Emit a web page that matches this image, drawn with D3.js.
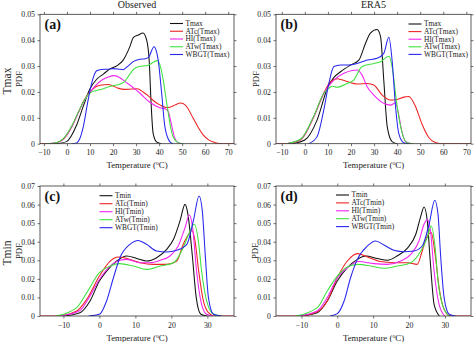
<!DOCTYPE html>
<html>
<head>
<meta charset="utf-8">
<script src="https://cdn.jsdelivr.net/npm/d3@7"></script>
<style>
  body { margin: 0; background: #fff; }
  svg { display: block; font-family: "Liberation Serif", "Times New Roman", serif; }
</style>
</head>
<body>
<script>
// ---- kernel density curves, [temperature, pdf] ----

// (a) Observed, Tmax-based indices
const obsTmax = [[-5,0],[-0.2,0.0008],[4.2,0.0072],[7.1,0.0145],[10,0.0212],[12.9,0.0249],[15.8,0.0269],[18.7,0.0289],[21.5,0.0300],[24.4,0.0323],[27.3,0.0375],[28.8,0.0410],[31,0.0420],[33,0.0428],[34.6,0.0400],[35.7,0.0320],[36.5,0.0160],[37.4,0.0040],[39,0.0006],[41,0]];
const obsATcMax = [[-11.7,0],[-7,0],[-4.5,0.0004],[-1.6,0.0017],[2.5,0.0072],[5,0.0122],[7.5,0.0169],[10,0.0200],[12.5,0.0220],[15,0.0227],[18,0.0229],[22,0.0215],[25,0.0210],[28,0.0211],[30.5,0.0212],[33,0.0200],[35.7,0.0182],[38,0.0163],[40.3,0.0150],[43,0.0140],[45,0.0142],[47,0.0150],[49.3,0.0157],[51.5,0.0148],[54.8,0.0098],[57,0.0063],[59.1,0.0034],[61.5,0.0015],[63.5,0.0007],[66,0.0001],[68,0],[72.5,0]];
const obsHIMax = [[-9,0],[-4.5,0.0004],[-1.6,0.0018],[2.5,0.0073],[5,0.0122],[7.5,0.0167],[10,0.0198],[12.5,0.0225],[15,0.0245],[18,0.0258],[20.5,0.0263],[23,0.0255],[25.5,0.0238],[28,0.0222],[30,0.0208],[31.7,0.0195],[35.7,0.0162],[40.3,0.0139],[42.8,0.0134],[44,0.0124],[45.2,0.0080],[46.5,0.0030],[48,0.0005],[50,0]];
const obsATwMax = [[-9,0],[-4.5,0.0005],[-1.6,0.0020],[2.5,0.0076],[5,0.0124],[7.5,0.0167],[10,0.0196],[12.5,0.0205],[15,0.0210],[17.5,0.0218],[20,0.0224],[22.5,0.0229],[25,0.0240],[27,0.0265],[29,0.0288],[31,0.0297],[35.3,0.0303],[37.5,0.0315],[39.2,0.0321],[40.5,0.0300],[41.8,0.0246],[43.3,0.0157],[45.4,0.0046],[47.6,0.0008],[50,0]];
const obsWBGTMax = [[2,0],[4.2,0.0003],[5.6,0.0020],[7.1,0.0066],[9.2,0.0169],[10.7,0.0233],[12.9,0.0282],[15,0.0287],[17.5,0.0288],[20,0.0290],[22,0.0289],[24.4,0.0286],[26.5,0.0300],[28.8,0.0317],[31.7,0.0326],[34,0.0328],[35.5,0.0335],[37.8,0.0375],[38.8,0.0358],[39.6,0.0323],[41.1,0.0195],[42.5,0.0066],[44.7,0.0007],[46,0]];

// (b) ERA5, Tmax-based indices
const eraTmax = [[-5.5,0],[0,0.0014],[5.3,0.0091],[10,0.0220],[12.6,0.0256],[15.5,0.0278],[19.8,0.0304],[23.4,0.0323],[26.3,0.0388],[28.4,0.0427],[31.3,0.0441],[32.8,0.0414],[34.2,0.0246],[35.7,0.0066],[37.8,0.0008],[40,0]];
const eraATcMax = [[-12.5,0],[-8,0],[-1.9,0.0014],[3.9,0.0104],[8.2,0.0195],[11.1,0.0240],[14,0.0251],[18.3,0.0240],[22.7,0.0231],[27,0.0233],[29.9,0.0227],[33.5,0.0188],[37.1,0.0169],[40,0.0171],[42.9,0.0180],[45,0.0182],[47.9,0.0145],[50.8,0.0075],[53.6,0.0025],[56.5,0.0005],[60,0],[72,0]];
const eraHIMax = [[-8,0],[-1.9,0.0016],[3.9,0.0106],[8.2,0.0195],[10.5,0.0225],[12.6,0.0246],[16.9,0.0272],[20.5,0.0283],[22.7,0.0285],[24.8,0.0265],[27,0.0220],[29.9,0.0188],[34.2,0.0156],[37.1,0.0149],[39.3,0.0158],[40.5,0.0120],[42,0.0050],[43.5,0.0010],[46,0]];
const eraATwMax = [[-8,0],[-1.9,0.0017],[3.9,0.0108],[8.2,0.0195],[10.5,0.0215],[11.8,0.0222],[14,0.0218],[18.3,0.0233],[21.2,0.0246],[24.8,0.0298],[29.9,0.0310],[32.8,0.0317],[35.7,0.0336],[36.5,0.0338],[37.8,0.0298],[40,0.0143],[42.2,0.0040],[44.3,0.0004],[47,0]];
const eraWBGTMax = [[1.7,0],[5.3,0.0027],[8.2,0.0130],[10.4,0.0233],[12.6,0.0298],[15.5,0.0304],[19.1,0.0304],[22.7,0.0310],[27,0.0323],[31.3,0.0330],[34.2,0.0349],[36.4,0.0411],[37.8,0.0323],[39.3,0.0143],[40.7,0.0040],[42.8,0.0004],[45,0]];

// (c) Observed, Tmin-based indices
const obsTmin = [[-10,0],[-5.4,0.0018],[-2.6,0.0081],[0,0.0188],[2,0.0242],[4.8,0.0296],[7.6,0.0323],[10.4,0.0310],[13.1,0.0296],[15.9,0.0314],[18.7,0.0359],[20.6,0.0413],[22.4,0.0512],[23.8,0.0601],[24.6,0.0547],[25.8,0.0330],[26.9,0.0100],[28.2,0.0009],[30,0]];
const obsATcMin = [[-16.5,0],[-12,0],[-6.3,0.0027],[-3.5,0.0090],[0,0.0215],[3,0.0296],[5.3,0.0318],[7.6,0.0310],[11.3,0.0287],[15,0.0278],[18.7,0.0278],[21.5,0.0296],[23.3,0.0386],[24.8,0.0440],[25.7,0.0460],[26.6,0.0400],[27.6,0.0240],[28.8,0.0090],[30.3,0.0018],[32,0],[37.4,0]];
const obsHIMin = [[-11,0],[-5.4,0.0030],[-2.6,0.0108],[0,0.0197],[3,0.0269],[5.7,0.0300],[7.6,0.0305],[11.3,0.0287],[14,0.0287],[16.9,0.0300],[19.6,0.0323],[21.9,0.0377],[23.8,0.0476],[25,0.0544],[25.9,0.0476],[27,0.0242],[28.4,0.0063],[29.8,0.0009],[31.5,0]];
const obsATwMin = [[-12,0],[-6.3,0.0045],[-3.5,0.0126],[0,0.0233],[3,0.0269],[5.7,0.0282],[9.4,0.0269],[13.1,0.0251],[16.9,0.0269],[20.6,0.0287],[23.3,0.0368],[25.2,0.0458],[26.4,0.0494],[27.5,0.0404],[28.4,0.0242],[29.8,0.0081],[31.7,0.0009],[34,0]];
const obsWBGTMin = [[-3,0],[0,0.0009],[2,0.0081],[3.9,0.0206],[5.7,0.0314],[8.5,0.0386],[10.8,0.0407],[13.1,0.0386],[15.9,0.0350],[18.7,0.0345],[21.5,0.0354],[24.3,0.0386],[26.1,0.0512],[27.7,0.0646],[28.6,0.0565],[29.4,0.0332],[30.3,0.0099],[31.7,0.0009],[34,0]];

// (d) ERA5, Tmin-based indices
const eraTmin = [[-10,0],[-5.6,0.0018],[-2.8,0.0081],[0,0.0188],[2.8,0.0260],[5.6,0.0305],[7.9,0.0323],[11.2,0.0310],[14,0.0300],[16.7,0.0323],[19.5,0.0364],[21.9,0.0440],[23.3,0.0538],[24.2,0.0587],[25.1,0.0512],[26,0.0278],[27,0.0063],[28.5,0]];
const eraATcMin = [[-17.1,0],[-11,0],[-5.6,0.0023],[-2.8,0.0081],[0,0.0206],[2.8,0.0296],[5.6,0.0336],[8.4,0.0318],[12.1,0.0293],[15.8,0.0287],[19.5,0.0287],[22.3,0.0278],[23.7,0.0350],[25.1,0.0431],[26.2,0.0449],[27.4,0.0314],[28.4,0.0153],[29.8,0.0036],[31.5,0],[37.3,0]];
const eraHIMin = [[-11,0],[-5.6,0.0027],[-2.8,0.0099],[0,0.0206],[2.8,0.0260],[6,0.0293],[10.2,0.0282],[14,0.0278],[17.7,0.0296],[20.5,0.0332],[22.8,0.0404],[24.2,0.0494],[25.1,0.0520],[26,0.0458],[27,0.0242],[28.4,0.0063],[30,0]];
const eraATwMin = [[-11.5,0],[-5.6,0.0045],[-2.8,0.0135],[0,0.0215],[2.8,0.0264],[5.6,0.0278],[9.3,0.0269],[13,0.0257],[16.7,0.0269],[20.5,0.0287],[23.3,0.0350],[25.1,0.0422],[26.2,0.0485],[27.3,0.0368],[28.1,0.0188],[29.3,0.0063],[31.2,0]];
const eraWBGTMin = [[-2,0],[0,0.0013],[1.9,0.0081],[3.7,0.0206],[5.6,0.0305],[8.4,0.0377],[10.7,0.0404],[13,0.0382],[15.8,0.0354],[18.6,0.0346],[21.4,0.0350],[23.7,0.0377],[25.6,0.0494],[27.2,0.0623],[28.1,0.0547],[28.8,0.0332],[29.8,0.0099],[31.2,0.0009],[33,0]];

// legend entries and ticks
const namesMax = ["Tmax", "ATc(Tmax)", "HI(Tmax)", "ATw(Tmax)", "WBGT(Tmax)"];
const namesMin = ["Tmin", "ATc(Tmin)", "HI(Tmin)", "ATw(Tmin)", "WBGT(Tmin)"];
const tempTicksMax = [-10, 0, 10, 20, 30, 40, 50, 60, 70];
const tempTicksMin = [-10, 0, 10, 20, 30];
const pdfTicksMax = [0, 0.01, 0.02, 0.03, 0.04, 0.05];
const pdfTicksMin = [0, 0.01, 0.02, 0.03, 0.04, 0.05, 0.06, 0.07];

const colors = ["#111111", "#ee2222", "#f024f0", "#3ee23e", "#2626ee"];

const W = 474, H = 342;
const svg = d3.select("body").append("svg")
    .attr("width", W)
    .attr("height", H);

svg.append("rect").attr("width", W).attr("height", H).attr("fill", "#fff");

const panels = [
  { tag: "(a)", title: "Observed", row: "Tmax", xr: [40, 234], yr: [143.7, 14.3], dom: [-11.7, 72.5], ymax: 0.05,
    xt: tempTicksMax, yt: pdfTicksMax, series: [obsTmax, obsATcMax, obsHIMax, obsATwMax, obsWBGTMax], names: namesMax,
    leg: [170, 23.5, 7.75], pdfX: 22 },
  { tag: "(b)", title: "ERA5", row: null, xr: [276, 471], yr: [143.7, 14.3], dom: [-12.5, 72.0], ymax: 0.05,
    xt: tempTicksMax, yt: pdfTicksMax, series: [eraTmax, eraATcMax, eraHIMax, eraATwMax, eraWBGTMax], names: namesMax,
    leg: [408.5, 24, 7.6], pdfX: 258.5 },
  { tag: "(c)", title: null, row: "Tmin", xr: [40, 234], yr: [316, 186], dom: [-16.5, 37.4], ymax: 0.07,
    xt: tempTicksMin, yt: pdfTicksMin, series: [obsTmin, obsATcMin, obsHIMin, obsATwMin, obsWBGTMin], names: namesMin,
    leg: [99.5, 195.7, 8], pdfX: 21.5 },
  { tag: "(d)", title: null, row: null, xr: [276, 471], yr: [316, 186], dom: [-17.1, 37.3], ymax: 0.07,
    xt: tempTicksMin, yt: pdfTicksMin, series: [eraTmin, eraATcMin, eraHIMin, eraATwMin, eraWBGTMin], names: namesMin,
    leg: [336, 195, 7.9], pdfX: 257.5 }
];

const fmtPdf = d => d === 0 ? "0" : d3.format(".2f")(d);

panels.forEach((p, i) => {
  const x = d3.scaleLinear().domain(p.dom).range(p.xr);
  const y = d3.scaleLinear().domain([0, p.ymax]).range(p.yr);
  const g = svg.append("g");
  const [x0, x1] = p.xr, [y1, y0] = p.yr;

  // clip the curves to the plot box
  const clipId = "clip" + i;
  svg.append("clipPath").attr("id", clipId)
    .append("rect").attr("x", x0).attr("y", y0).attr("width", x1 - x0).attr("height", y1 - y0);

  const line = d3.line()
      .x(d => x(d[0]))
      .y(d => y(d[1]))
      .curve(d3.curveMonotoneX);

  g.append("g").attr("clip-path", `url(#${clipId})`)
    .selectAll("path")
    .data(p.series)
    .join("path")
      .attr("d", line)
      .attr("fill", "none")
      .attr("stroke", (d, k) => colors[k])
      .attr("stroke-width", 1.05);

  // axes on all four sides
  const styleAxis = sel => {
    sel.select(".domain").remove();
    sel.selectAll("line").attr("stroke", "#333").attr("stroke-width", 0.7);
    sel.selectAll("text").attr("fill", "#222").style("font-size", "7.8px").style("font-family", "Liberation Serif, serif");
  };
  g.append("g").attr("transform", `translate(0,${y1})`)
    .call(d3.axisBottom(x).tickValues(p.xt).tickSize(2.5).tickPadding(3.5))
    .call(styleAxis);
  g.append("g").attr("transform", `translate(0,${y0})`)
    .call(d3.axisTop(x).tickValues(p.xt).tickSize(2.5).tickFormat(""))
    .call(styleAxis);
  g.append("g").attr("transform", `translate(${x0},0)`)
    .call(d3.axisLeft(y).tickValues(p.yt).tickSize(2.5).tickPadding(2.5).tickFormat(fmtPdf))
    .call(styleAxis);
  g.append("g").attr("transform", `translate(${x1},0)`)
    .call(d3.axisRight(y).tickValues(p.yt).tickSize(2.5).tickFormat(""))
    .call(styleAxis);

  g.append("rect")
    .attr("x", x0).attr("y", y0)
    .attr("width", x1 - x0).attr("height", y1 - y0)
    .attr("fill", "none")
    .attr("stroke", "#333")
    .attr("stroke-width", 0.8);

  // panel tag
  g.append("text")
    .attr("x", x0 + 4.5).attr("y", y0 + 15)
    .style("font-size", "14px").style("font-weight", "bold")
    .attr("fill", "#111")
    .text(p.tag);

  // legend
  const [lx, ly, ld] = p.leg;
  const leg = g.append("g");
  p.names.forEach((n, k) => {
    leg.append("line")
      .attr("x1", lx).attr("x2", lx + 13)
      .attr("y1", ly + k * ld).attr("y2", ly + k * ld)
      .attr("stroke", colors[k]).attr("stroke-width", 1.1);
    leg.append("text")
      .attr("x", lx + 15.5).attr("y", ly + k * ld)
      .attr("dy", "0.33em")
      .style("font-size", "7.4px")
      .attr("fill", "#222")
      .text(n);
  });

  // x-axis title
  const xt = g.append("text")
    .attr("x", (x0 + x1) / 2).attr("y", y1 + 24.5)
    .attr("text-anchor", "middle")
    .style("font-size", "8.8px")
    .attr("fill", "#222");
  xt.append("tspan").text("Temperature (");
  xt.append("tspan").attr("dy", "-3").style("font-size", "5.8px").text("o");
  xt.append("tspan").attr("dy", "3").text("C)");

  // y-axis title
  const yc = (y0 + y1) / 2;
  g.append("text")
    .attr("transform", `translate(${p.pdfX},${yc}) rotate(-90)`)
    .attr("text-anchor", "middle")
    .style("font-size", "8.8px")
    .attr("fill", "#222")
    .text("PDF");

  if (p.row) {
    g.append("text")
      .attr("transform", `translate(10.5,${yc + 2}) rotate(-90)`)
      .attr("text-anchor", "middle")
      .style("font-size", "11.5px")
      .attr("fill", "#222")
      .text(p.row);
  }

  if (p.title) {
    g.append("text")
      .attr("x", (x0 + x1) / 2).attr("y", 8)
      .attr("text-anchor", "middle")
      .style("font-size", "10px")
      .attr("fill", "#222")
      .text(p.title);
  }
});
</script>
</body>
</html>
